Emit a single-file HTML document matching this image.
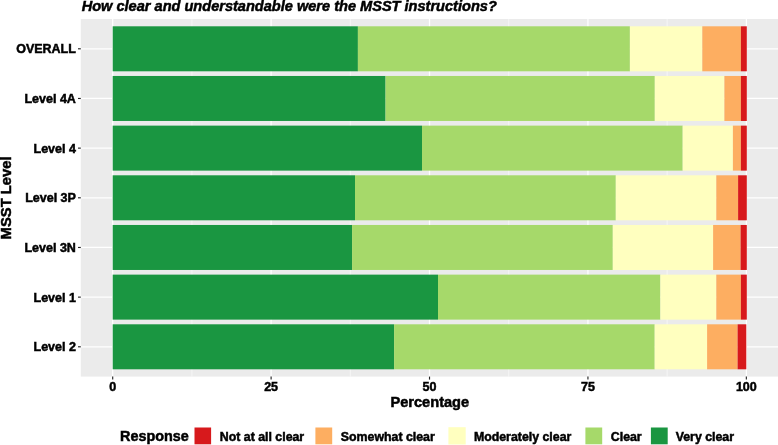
<!DOCTYPE html>
<html><head><meta charset="utf-8"><title>MSST instructions</title>
<style>
html,body{margin:0;padding:0;background:#fff;}
body{width:778px;height:445px;overflow:hidden;}
svg{display:block;}
text{font-family:"Liberation Sans",Arial,Helvetica,sans-serif;font-weight:bold;fill:#000;stroke:#000;stroke-width:0.5px;}
.ax{font-size:12.5px;}
.tt{font-size:14.67px;}
.lg{font-size:12.35px;}
</style></head><body>
<svg width="778" height="445" viewBox="0 0 778 445">
<rect x="0" y="0" width="778" height="445" fill="#fff"/>
<rect x="80.8" y="19.0" width="697.2" height="357.6" fill="#EBEBEB"/>
<line x1="191.91" y1="19.0" x2="191.91" y2="376.6" stroke="#fff" stroke-width="0.55"/>
<line x1="350.32" y1="19.0" x2="350.32" y2="376.6" stroke="#fff" stroke-width="0.55"/>
<line x1="508.73" y1="19.0" x2="508.73" y2="376.6" stroke="#fff" stroke-width="0.55"/>
<line x1="667.14" y1="19.0" x2="667.14" y2="376.6" stroke="#fff" stroke-width="0.55"/>
<line x1="112.70" y1="19.0" x2="112.70" y2="376.6" stroke="#fff" stroke-width="1.25"/>
<line x1="271.11" y1="19.0" x2="271.11" y2="376.6" stroke="#fff" stroke-width="1.25"/>
<line x1="429.52" y1="19.0" x2="429.52" y2="376.6" stroke="#fff" stroke-width="1.25"/>
<line x1="587.94" y1="19.0" x2="587.94" y2="376.6" stroke="#fff" stroke-width="1.25"/>
<line x1="746.35" y1="19.0" x2="746.35" y2="376.6" stroke="#fff" stroke-width="1.25"/>
<line x1="80.8" y1="48.80" x2="778.0" y2="48.80" stroke="#fff" stroke-width="1.25"/>
<line x1="80.8" y1="98.47" x2="778.0" y2="98.47" stroke="#fff" stroke-width="1.25"/>
<line x1="80.8" y1="148.13" x2="778.0" y2="148.13" stroke="#fff" stroke-width="1.25"/>
<line x1="80.8" y1="197.80" x2="778.0" y2="197.80" stroke="#fff" stroke-width="1.25"/>
<line x1="80.8" y1="247.47" x2="778.0" y2="247.47" stroke="#fff" stroke-width="1.25"/>
<line x1="80.8" y1="297.13" x2="778.0" y2="297.13" stroke="#fff" stroke-width="1.25"/>
<line x1="80.8" y1="346.80" x2="778.0" y2="346.80" stroke="#fff" stroke-width="1.25"/>
<rect x="112.70" y="26.30" width="245.20" height="45.00" fill="#1A9641"/>
<rect x="357.90" y="26.30" width="272.00" height="45.00" fill="#A6D96A"/>
<rect x="629.90" y="26.30" width="72.40" height="45.00" fill="#FFFFBF"/>
<rect x="702.30" y="26.30" width="38.60" height="45.00" fill="#FDAE61"/>
<rect x="740.90" y="26.30" width="5.90" height="45.00" fill="#D7191C"/>
<rect x="112.70" y="75.97" width="272.85" height="45.00" fill="#1A9641"/>
<rect x="385.55" y="75.97" width="269.25" height="45.00" fill="#A6D96A"/>
<rect x="654.80" y="75.97" width="69.60" height="45.00" fill="#FFFFBF"/>
<rect x="724.40" y="75.97" width="16.50" height="45.00" fill="#FDAE61"/>
<rect x="740.90" y="75.97" width="5.90" height="45.00" fill="#D7191C"/>
<rect x="112.70" y="125.63" width="309.30" height="45.00" fill="#1A9641"/>
<rect x="422.00" y="125.63" width="260.70" height="45.00" fill="#A6D96A"/>
<rect x="682.70" y="125.63" width="50.20" height="45.00" fill="#FFFFBF"/>
<rect x="732.90" y="125.63" width="8.00" height="45.00" fill="#FDAE61"/>
<rect x="740.90" y="125.63" width="5.90" height="45.00" fill="#D7191C"/>
<rect x="112.70" y="175.30" width="242.30" height="45.00" fill="#1A9641"/>
<rect x="355.00" y="175.30" width="260.80" height="45.00" fill="#A6D96A"/>
<rect x="615.80" y="175.30" width="100.50" height="45.00" fill="#FFFFBF"/>
<rect x="716.30" y="175.30" width="21.80" height="45.00" fill="#FDAE61"/>
<rect x="738.10" y="175.30" width="8.70" height="45.00" fill="#D7191C"/>
<rect x="112.70" y="224.97" width="239.35" height="45.00" fill="#1A9641"/>
<rect x="352.05" y="224.97" width="260.75" height="45.00" fill="#A6D96A"/>
<rect x="612.80" y="224.97" width="100.30" height="45.00" fill="#FFFFBF"/>
<rect x="713.10" y="224.97" width="27.50" height="45.00" fill="#FDAE61"/>
<rect x="740.60" y="224.97" width="6.20" height="45.00" fill="#D7191C"/>
<rect x="112.70" y="274.63" width="325.30" height="45.00" fill="#1A9641"/>
<rect x="438.00" y="274.63" width="222.40" height="45.00" fill="#A6D96A"/>
<rect x="660.40" y="274.63" width="55.90" height="45.00" fill="#FFFFBF"/>
<rect x="716.30" y="274.63" width="24.60" height="45.00" fill="#FDAE61"/>
<rect x="740.90" y="274.63" width="5.90" height="45.00" fill="#D7191C"/>
<rect x="112.70" y="324.30" width="281.40" height="45.00" fill="#1A9641"/>
<rect x="394.10" y="324.30" width="260.60" height="45.00" fill="#A6D96A"/>
<rect x="654.70" y="324.30" width="52.40" height="45.00" fill="#FFFFBF"/>
<rect x="707.10" y="324.30" width="30.50" height="45.00" fill="#FDAE61"/>
<rect x="737.60" y="324.30" width="8.70" height="45.00" fill="#D7191C"/>
<line x1="78.0" y1="48.80" x2="80.8" y2="48.80" stroke="#262626" stroke-width="1.15"/>
<text class="ax" x="75.9" y="53.35" text-anchor="end">OVERALL</text>
<line x1="78.0" y1="98.47" x2="80.8" y2="98.47" stroke="#262626" stroke-width="1.15"/>
<text class="ax" x="75.9" y="103.02" text-anchor="end">Level 4A</text>
<line x1="78.0" y1="148.13" x2="80.8" y2="148.13" stroke="#262626" stroke-width="1.15"/>
<text class="ax" x="75.9" y="152.68" text-anchor="end">Level 4</text>
<line x1="78.0" y1="197.80" x2="80.8" y2="197.80" stroke="#262626" stroke-width="1.15"/>
<text class="ax" x="75.9" y="202.35" text-anchor="end">Level 3P</text>
<line x1="78.0" y1="247.47" x2="80.8" y2="247.47" stroke="#262626" stroke-width="1.15"/>
<text class="ax" x="75.9" y="252.02" text-anchor="end">Level 3N</text>
<line x1="78.0" y1="297.13" x2="80.8" y2="297.13" stroke="#262626" stroke-width="1.15"/>
<text class="ax" x="75.9" y="301.68" text-anchor="end">Level 1</text>
<line x1="78.0" y1="346.80" x2="80.8" y2="346.80" stroke="#262626" stroke-width="1.15"/>
<text class="ax" x="75.9" y="351.35" text-anchor="end">Level 2</text>
<line x1="112.70" y1="376.6" x2="112.70" y2="379.6" stroke="#262626" stroke-width="1.15"/>
<text class="ax" x="112.70" y="390.6" text-anchor="middle">0</text>
<line x1="271.11" y1="376.6" x2="271.11" y2="379.6" stroke="#262626" stroke-width="1.15"/>
<text class="ax" x="271.11" y="390.6" text-anchor="middle">25</text>
<line x1="429.52" y1="376.6" x2="429.52" y2="379.6" stroke="#262626" stroke-width="1.15"/>
<text class="ax" x="429.52" y="390.6" text-anchor="middle">50</text>
<line x1="587.94" y1="376.6" x2="587.94" y2="379.6" stroke="#262626" stroke-width="1.15"/>
<text class="ax" x="587.94" y="390.6" text-anchor="middle">75</text>
<line x1="746.35" y1="376.6" x2="746.35" y2="379.6" stroke="#262626" stroke-width="1.15"/>
<text class="ax" x="746.35" y="390.6" text-anchor="middle">100</text>
<text class="tt" x="429.8" y="406.7" text-anchor="middle" style="font-size:14.6px">Percentage</text>
<text class="tt" transform="translate(11.3,197.9) rotate(-90)" text-anchor="middle" style="font-size:14.8px">MSST Level</text>
<text class="tt" x="81.7" y="10.5" font-style="italic" style="font-size:14.57px">How clear and understandable were the MSST instructions?</text>
<text class="tt" x="120.1" y="440.9" style="font-size:14.4px">Response</text>
<rect x="194.5" y="427.5" width="16.6" height="16.8" fill="#D7191C"/>
<text class="lg" x="219.8" y="440.6">Not at all clear</text>
<rect x="315.4" y="427.5" width="16.8" height="16.8" fill="#FDAE61"/>
<text class="lg" x="340.8" y="440.6">Somewhat clear</text>
<rect x="448.4" y="427.2" width="17.3" height="17.3" fill="#FFFFBF"/>
<text class="lg" x="473.9" y="440.6">Moderately clear</text>
<rect x="585.4" y="427.5" width="16.8" height="16.8" fill="#A6D96A"/>
<text class="lg" x="610.8" y="440.6">Clear</text>
<rect x="650.9" y="427.5" width="16.8" height="16.8" fill="#1A9641"/>
<text class="lg" x="675.7" y="440.6">Very clear</text>
</svg>
</body></html>
